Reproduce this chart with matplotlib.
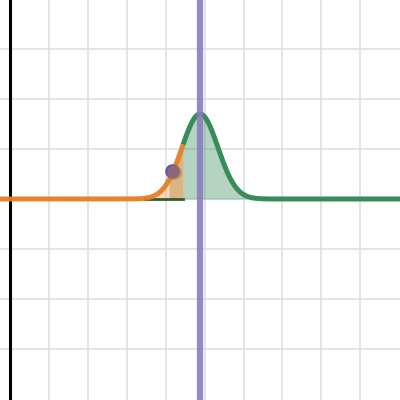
import numpy as np
import matplotlib
matplotlib.use("Agg")
import matplotlib.pyplot as plt

mu = 4.885
sigma = 0.46
peak = 1.7
split_x = 4.45
orange_fill_start = 3.78
tan_fill_start = 4.09
point_x = [4.17]
point_y = [0.56]
vline_x = 4.885
grid_x = [1, 2, 3, 4, 5, 6, 7, 8, 9]
grid_y = [-3, -2, -1, 0, 1, 2, 3]

def f(x):
    return peak * np.exp(-0.5 * ((x - mu) / sigma) ** 2)

fig = plt.figure(figsize=(4, 4), dpi=100)
ax = fig.add_axes([0, 0, 1, 1])
ax.set_xlim(-0.244, 10.013)
ax.set_ylim(-4.02, 3.98)
ax.axis("off")
for gx in grid_x:
    ax.axvline(gx, color="#dcdcdc", lw=1.1, zorder=0)
for gy in grid_y:
    ax.axhline(gy, color="#dcdcdc", lw=1.1, zorder=0)
ax.axvline(0, color="black", lw=2.2, zorder=1)

xg = np.linspace(split_x, 10.1, 400)
xo = np.linspace(-0.5, split_x, 400)
xf = np.linspace(split_x, 8.0, 300)
ax.fill_between(xf, 0, f(xf), color="#3a8f5c", alpha=0.38, lw=0, zorder=2)
xo1 = np.linspace(orange_fill_start, split_x, 100)
ax.fill_between(xo1, 0, f(xo1), color="#f5a05a", alpha=0.4, lw=0, zorder=2)
xo2 = np.linspace(tan_fill_start, split_x, 100)
ax.fill_between(xo2, 0, f(xo2), color="#b08a3a", alpha=0.45, lw=0, zorder=2)
ax.plot([orange_fill_start - 0.3, split_x], [0, 0], color="#2d5e2d", lw=2, zorder=3)
ax.plot(xg, f(xg), color="#388c5a", lw=3.6, solid_capstyle="butt", zorder=4)
ax.plot(xo, f(xo), color="#e67e22", lw=3.6, alpha=0.95, solid_capstyle="butt", zorder=4)
ax.axvline(vline_x, color="#8a7bbf", lw=4.5, alpha=0.9, zorder=5)
ax.scatter(point_x, point_y, s=110, color="#6b4fb0", zorder=6, lw=0)
ax.scatter([point_x[0] + 0.06], [point_y[0] - 0.02], s=110, color="#a07a50", alpha=0.6, zorder=7, lw=0)
fig.savefig("out.png", dpi=100)
